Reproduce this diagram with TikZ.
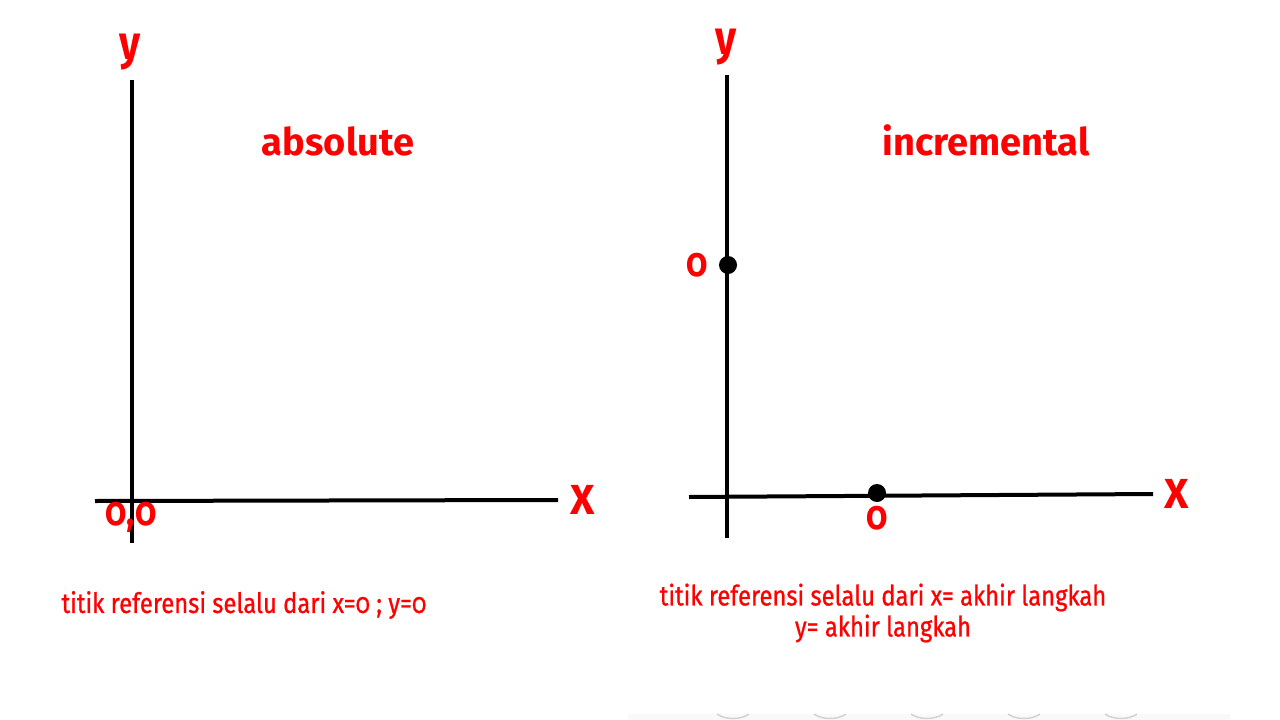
\documentclass[tikz,border=0pt]{standalone}
\usepackage{fontspec}
\setmainfont{Fira Sans}[FakeStretch=0.85, Numbers=OldStyle]
\newfontfamily\widefont{Fira Sans}[Numbers=OldStyle]
\newfontfamily\notefont{Fira Sans}[FakeStretch=0.85, FakeBold=0.8, Numbers=OldStyle]
\begin{document}
\begin{tikzpicture}[x=1pt,y=-1pt]
\tikzset{
  axis/.style={line width=4pt, black},
  lbl/.style={text=red, inner sep=0pt, font=\bfseries\fontsize{48}{48}\selectfont},
  xlbl/.style={text=red, inner sep=0pt, font=\widefont\bfseries\fontsize{42}{42}\selectfont},
  title/.style={text=red, inner sep=0pt, font=\widefont\bfseries\fontsize{38}{38}\selectfont},
  zero/.style={text=red, inner sep=0pt, font=\bfseries\fontsize{40}{40}\selectfont},
  note/.style={text=red, inner sep=0pt, align=center, font=\notefont\fontsize{28}{31}\selectfont},
  dot/.style={circle, fill=black, inner sep=0pt, minimum size=18pt},
}
\fill[white] (0,0) rectangle (1280,720);
\useasboundingbox (0,0) rectangle (1280,720);
% left axes
\coordinate (lyt) at (132,80);
\coordinate (lyb) at (132,543);
\coordinate (lxl) at (95,501);
\coordinate (lxr) at (558,500);
\draw[axis] (lyt) -- (lyb);
\draw[axis] (lxl) -- (lxr);
\node[lbl] (ly) at (130,52) {y};
\node[xlbl] (lx) at (583,500) {X};
\node[title] (abs) at (338,141) {absolute};
\node[zero] (lo) at (131,517) {0,0};
\node[note] (lnote) at (244,605) {titik referensi selalu dari x=0 ; y=0};
% right axes
\coordinate (ryt) at (727,75);
\coordinate (ryb) at (727,538);
\coordinate (rxl) at (689,497);
\coordinate (rxr) at (1153,494);
\draw[axis] (ryt) -- (ryb);
\draw[axis] (rxl) -- (rxr);
\node[dot] (d1) at (728,265) {};
\node[dot] (d2) at (877,493) {};
\node[lbl] (ry) at (726,47) {y};
\node[xlbl] (rx) at (1177,494) {X};
\node[title] (inc) at (986,140) {incremental};
\node[zero] (ro1) at (697,265) {0};
\node[zero] (ro2) at (877,518) {0};
\node[note] (rnote) at (883,613) {titik referensi selalu dari x= akhir langkah\\y= akhir langkah};
% faint strip at bottom
\fill[gray!5] (628,714) rectangle (1230,720);
\foreach \cx in {733,830,927,1024,1121}
  \draw[gray!35, line width=1.5pt] (\cx-16,714) .. controls (\cx-8,720) and (\cx+8,720) .. (\cx+16,714);
\end{tikzpicture}
\end{document}
